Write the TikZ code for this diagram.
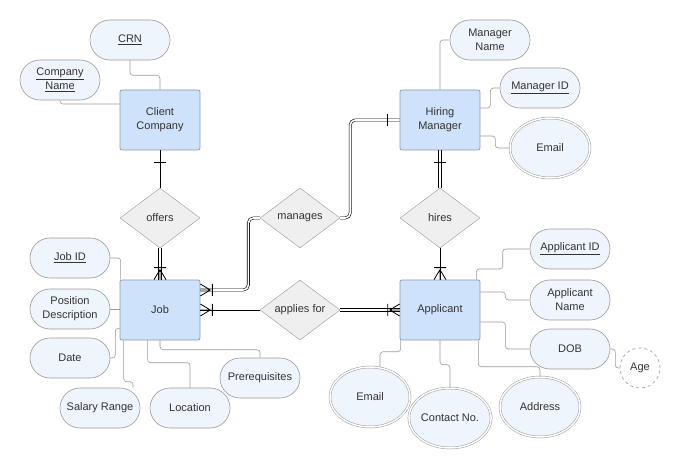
\documentclass[tikz,border=0pt]{standalone}
\usepackage{fontspec}
\setmainfont{Liberation Sans}
\usetikzlibrary{shapes.geometric,calc}
\definecolor{ent}{HTML}{CFE2FB}
\definecolor{entb}{HTML}{8A9BB0}
\definecolor{att}{HTML}{EEF5FD}
\definecolor{attb}{HTML}{9A9A9A}
\definecolor{rel}{HTML}{EFEFEF}
\definecolor{txt}{HTML}{333333}
\newcommand{\crowmark}[2]{\begin{scope}[shift={(#1)},rotate=#2]\draw[line width=0.8pt] (10,0)--(0,-6) (10,0)--(0,0) (10,0)--(0,6) (12,-6)--(12,6);\end{scope}}
\newcommand{\onemark}[2]{\begin{scope}[shift={(#1)},rotate=#2]\draw[line width=0.8pt] (12,-6)--(12,6);\end{scope}}
\begin{document}
\begin{tikzpicture}[x=1pt,y=-1pt,
  font=\fontsize{11}{14}\selectfont, text=txt,
  entity/.style={draw=entb,fill=ent,rounded corners=2,minimum width=80,minimum height=60,align=center,line width=0.7pt},
  attr/.style={draw=attb,fill=att,rounded corners=20,minimum width=80,minimum height=40,align=center,line width=0.6pt},
  mattr/.style={draw=attb,fill=att,ellipse,inner sep=0pt,minimum width=80,minimum height=60,double=white,double distance=1.5pt,line width=0.5pt,align=center},
  rel/.style={draw=attb,fill=rel,diamond,aspect=1.333,minimum width=80,minimum height=60,inner sep=0pt},
  conn/.style={draw=attb,line width=0.6pt,rounded corners=3},
  sl/.style={draw=black,line width=0.8pt},
  tl/.style={draw=black,line width=0.7pt},
  dlr/.style={draw=black,line width=0.6pt,double=white,double distance=1.6pt,rounded corners=5}]
\useasboundingbox (0,0) rectangle (680,470);
% entities
\node[entity] (cc) at (160,120) {Client\\Company};
\node[entity] (hm) at (440,120) {Hiring\\Manager};
\node[entity] (job) at (160,310) {Job};
\node[entity] (app) at (440,310) {Applicant};
% relationships
\node[rel] (off) at (160,218) {offers};
\node[rel] (man) at (300,218) {manages};
\node[rel] (hir) at (440,218) {hires};
\node[rel] (apf) at (300,310) {applies for};
% attributes
\node[attr] (crn) at (130,40) {\underline{CRN}};
\node[attr] (cn) at (60,80) {\underline{Company}\\\underline{Name}};
\node[attr] (mn) at (490,40) {Manager\\Name};
\node[attr] (mid) at (540,88) {\underline{Manager ID}};
\node[mattr] (hme) at (550,148) {Email};
\node[attr] (jid) at (70,258) {\underline{Job ID}};
\node[attr] (pd) at (70,309) {Position\\Description};
\node[attr] (dt) at (70,358) {Date};
\node[attr] (sr) at (100,408) {Salary Range};
\node[attr] (loc) at (190,408) {Location};
\node[attr] (pre) at (260,378) {Prerequisites};
\node[attr] (aid) at (570,249) {\underline{Applicant ID}};
\node[attr] (an) at (570,300) {Applicant\\Name};
\node[attr] (dob) at (570,349) {DOB};
\node[draw=attb,dashed,circle,minimum size=40,fill=white,line width=0.6pt] (age) at (640,368) {Age};
\node[mattr] (ae) at (370,397) {Email};
\node[mattr] (cno) at (450,418) {Contact No.};
\node[mattr] (adr) at (540,407) {Address};
% attribute connectors
\draw[conn] (crn.south) -- ++(0,15) -| (cc.north);
\draw[conn] (cn.south) |- ($(cc.west)+(0,-16)$);
\draw[conn] (hm.north) |- (mn.west);
\draw[conn] ($(hm.east)+(0,-12)$) -- ++(10,0) |- (mid.west);
\draw[conn] ($(hm.east)+(0,16)$) -- ++(15,0) |- (hme.west);
\draw[conn] (jid.east) -| ($(job.north west)+(1,0)$);
\draw[conn] (pd.east) -- (pd.east -| job.west);
\draw[conn] (dt.east) -- ++(5,0) |- ($(job.south west)+(0,-12)$);
\draw[conn] ($(job.south west)+(4,0)$) |- ($(sr.north)+(33,-6)$) -- ($(sr.north)+(33,0)$);
\draw[conn] ($(job.south west)+(28,0)$) |- ($(loc.north)+(0,-25)$) -- (loc.north);
\draw[conn] (job.south) |- ($(pre.north)+(0,-8)$) -- (pre.north);
\draw[conn] ($(app.north east)+(-4,0)$) |- ($(aid.west)+(-27,20)$) |- (aid.west);
\draw[conn] ($(app.east)+(0,-18)$) -- ++(25,0) |- (an.west);
\draw[conn] ($(app.east)+(0,12)$) -- ++(25,0) |- (dob.west);
\draw[conn] (dob.east) -- ++(5,0) |- (age.west);
\draw[conn] ($(app.south west)+(1,0)$) |- ($(ae.north)+(10,-15)$) -- ($(ae.north)+(10,0)$);
\draw[conn] (app.south) |- ($(cno.north)+(0,-23)$) -- (cno.north);
\draw[conn] ($(app.south east)+(-2,0)$) |- ($(adr.north)+(0,-10)$) -- (adr.north);
% relationship connectors
\draw[sl] (cc.south) -- (off.north);
\onemark{cc.south}{270}
\draw[tl] ($(off.south)+(-1.6,0)$) -- ($(job.north)+(-1.6,0)$);
\draw[tl] ($(off.south)+(1.6,0)$) -- ($(job.north)+(1.6,0)$);
\crowmark{job.north}{90}
\draw[dlr] ($(job.east)+(0,-20)$) -- ++(48,0) |- (man.west);
\crowmark{$(job.east)+(0,-20)$}{0}
\draw[dlr] (man.east) -- ++(10,0) |- (hm.west);
\onemark{hm.west}{180}
\draw[tl] ($(hm.south)+(-1.6,0)$) -- ($(hir.north)+(-1.6,0)$);
\draw[tl] ($(hm.south)+(1.6,0)$) -- ($(hir.north)+(1.6,0)$);
\onemark{hm.south}{270}
\draw[sl] (hir.south) -- (app.north);
\crowmark{app.north}{90}
\draw[sl] (apf.west) -- (job.east);
\crowmark{job.east}{0}
\draw[tl] ($(apf.east)+(0,-1.6)$) -- ($(app.west)+(0,-1.6)$);
\draw[tl] ($(apf.east)+(0,1.6)$) -- ($(app.west)+(0,1.6)$);
\crowmark{app.west}{180}
\end{tikzpicture}
\end{document}
